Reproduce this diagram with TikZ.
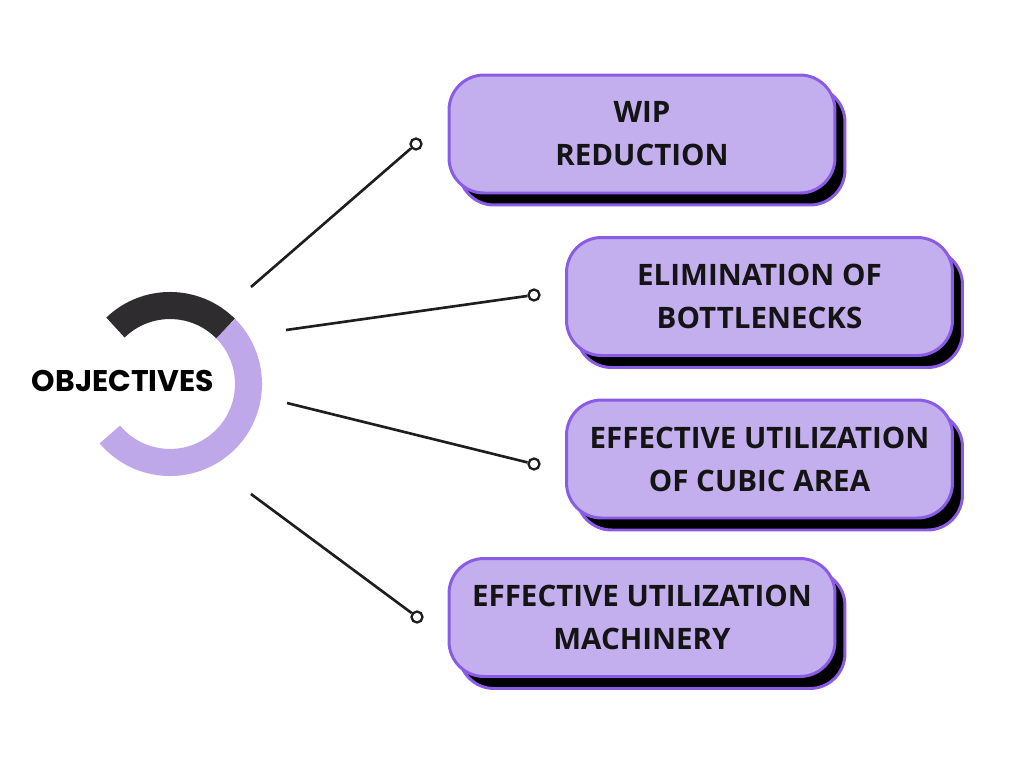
\documentclass[tikz,border=0pt]{standalone}
\usepackage{fontspec}
\setmainfont{Open Sans}
\newfontfamily\titlefont{Poppins}
\usetikzlibrary{shadows}
\definecolor{boxfill}{HTML}{C3AEEE}
\definecolor{boxedge}{HTML}{8A5CE6}
\definecolor{ringlilac}{HTML}{BFA8EA}
\definecolor{ringdark}{HTML}{2F2C2F}
\definecolor{linkgray}{HTML}{1E1E1E}
\def\ringcentre{(170,384)}

\begin{document}
\begin{tikzpicture}[x=0.02cm,y=-0.02cm,
    goalbox/.style={draw=boxedge, line width=1.7pt, fill=boxfill,
      rounded corners=0.7cm, minimum width=7.72cm, minimum height=2.36cm,
      align=center, text=black!92,
      font=\fontsize{16.8}{24.5}\selectfont\bfseries,
      drop shadow={shadow xshift=0.2cm, shadow yshift=-0.24cm,
        fill=black, draw=boxedge, line width=1.7pt, opacity=1}},
    link/.style={draw=linkgray, line width=1.5pt},
    knob/.style={circle, draw=linkgray, line width=1.3pt, fill=white,
      inner sep=0pt, minimum size=0.22cm}]
    \useasboundingbox (0,0) rectangle (1024,768);
    % ring round the title
    \draw[ringlilac, line width=15.4pt] \ringcentre ++(-45:78.5)
      arc[start angle=-45, end angle=140, radius=78.5];
    \draw[ringdark, line width=15.4pt] \ringcentre ++(-45:78.5)
      arc[start angle=-45, end angle=-134, radius=78.5];
    \node[font=\titlefont\fontsize{17}{20}\selectfont\bfseries] (title) at (123,381) {OBJECTIVES};
    % objectives
    \node[goalbox] (wip) at (642,134) {WIP\\REDUCTION};
    \node[goalbox] (neck) at (759.5,296.5) {ELIMINATION OF\\BOTTLENECKS};
    \node[goalbox] (cubic) at (759.5,459) {EFFECTIVE UTILIZATION\\OF CUBIC AREA};
    \node[goalbox] (mach) at (642,617.5) {EFFECTIVE UTILIZATION\\MACHINERY};
    % connectors
    \coordinate (s1) at (251,287);
    \coordinate (s2) at (286,330);
    \coordinate (s3) at (287,403);
    \coordinate (s4) at (251,494);
    \node[knob] (k1) at (416,144) {};
    \node[knob] (k2) at (534,295) {};
    \node[knob] (k3) at (534,464) {};
    \node[knob] (k4) at (417,617) {};
    \draw[link] (s1) -- (k1);
    \draw[link] (s2) -- (k2);
    \draw[link] (s3) -- (k3);
    \draw[link] (s4) -- (k4);
\end{tikzpicture}
\end{document}
